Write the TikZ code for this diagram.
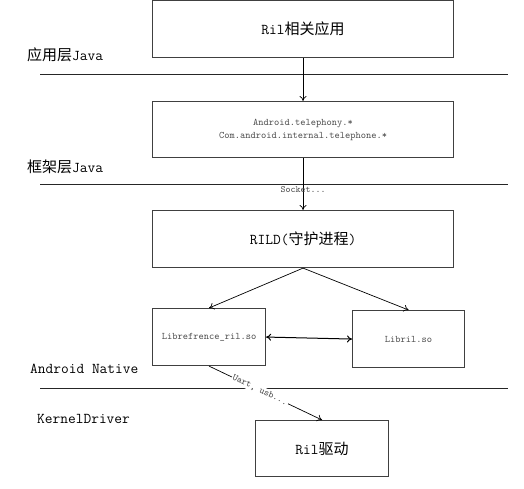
\documentclass[tikz,border=0pt]{standalone}
\usepackage{fontspec}
\setmainfont{Latin Modern Mono}
\newfontfamily\cjk{Noto Sans CJK SC}
\usetikzlibrary{arrows.meta}
\begin{document}
\begin{tikzpicture}[x=1pt,y=-1pt,
  layerbox/.style = {draw = black!75, line width = 1.1pt, inner sep = 0pt, anchor = north west},
  layername/.style = {anchor = west, inner sep = 0pt, font = \fontsize{15}{17}\selectfont},
  flow/.style = {-{To[length=5pt,width=7pt]}, line width = 0.7pt}]
\useasboundingbox (0,0) rectangle (524,489);
% layer separators
\foreach \y in {74,184,388} \draw [line width = 0.8pt, black!85] (40,\y) -- (508,\y);
\node[layername] (app) at (27,55) {{\cjk 应用层}Java};
\node[layername] (frame) at (27,167) {{\cjk 框架层}Java};
\node[layername] (native) at (30,369) {Android Native};
\node[layername] (kernel) at (37,419) {KernelDriver};
% boxes
\node[layerbox, minimum width = 301, minimum height = 57, font = \fontsize{15}{17}\selectfont] (rilapp) at (152,0) {Ril{\cjk 相关应用}};
\node[layerbox, minimum width = 301, minimum height = 56, align = center, text = black!70, font = \fontsize{10}{13}\selectfont] (tel) at (152,101) {Android.telephony.*\\Com.android.internal.telephone.*};
\node[layerbox, minimum width = 301, minimum height = 57, font = \fontsize{15}{17}\selectfont] (rild) at (152,210) {RILD({\cjk 守护进程})};
\node[layerbox, minimum width = 113, minimum height = 57, text = black!70, font = \fontsize{10}{12}\selectfont] (refril) at (152,308) {Librefrence\_ril.so};
\node[layerbox, minimum width = 112, minimum height = 57, text = black!70, font = \fontsize{10}{12}\selectfont] (libril) at (352,310) {Libril.so};
\node[layerbox, minimum width = 133, minimum height = 56, font = \fontsize{15}{17}\selectfont] (driver) at (255,420) {Ril{\cjk 驱动}};
% connectors
\draw[flow] (rilapp.south) -- (tel.north);
\draw[flow] (tel.south) -- node[pos = 0.6, text = black!70, font = \fontsize{9.5}{11}\selectfont] (sock) {Socket...} (rild.north);
\draw[flow] (rild.south) -- (refril.north);
\draw[flow] (rild.south) -- (libril.north);
\draw[flow, line width = 1pt, {To[length=5pt,width=7pt]}-{To[length=5pt,width=7pt]}] (refril.east) -- (libril.west);
\draw[flow] (refril.south) -- node[pos = 0.45, sloped, fill = white, inner sep = 1pt, text = black!70, font = \fontsize{9.5}{11}\selectfont] (bus) {Uart, usb...} (driver.north);
\end{tikzpicture}
\end{document}
